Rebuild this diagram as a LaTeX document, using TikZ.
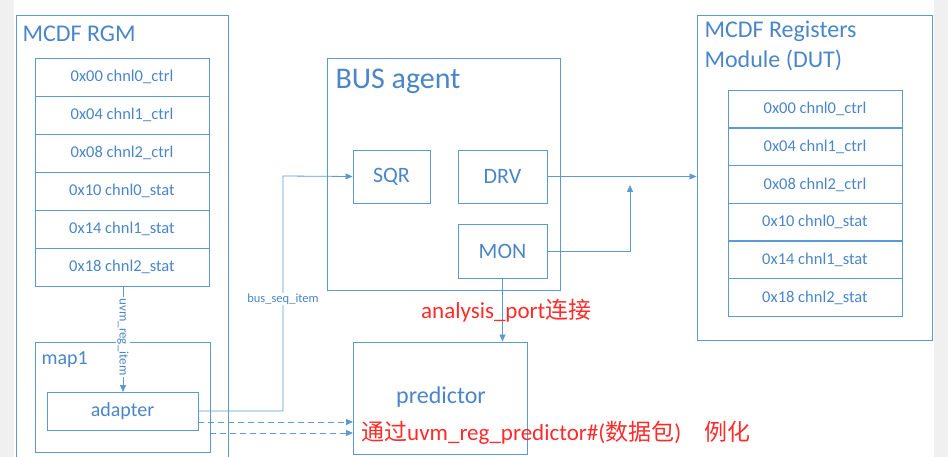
\documentclass[tikz,border=0pt]{standalone}
\usepackage{fontspec}
\setmainfont{Carlito}
\newfontfamily\cjk{Noto Sans CJK SC}
\usetikzlibrary{arrows.meta}
\definecolor{bl}{HTML}{5B9BD5}
\definecolor{tx}{HTML}{4A86C8}
\definecolor{rd}{HTML}{FF2A2A}
\tikzset{
 box/.style={draw=bl,line width=0.9pt,fill=white},
 reg/.style={draw=bl,line width=0.9pt,minimum width=174pt,minimum height=38pt,inner sep=0pt,text=tx,font=\fontsize{16.5}{18}\selectfont},
 blk/.style={draw=bl,line width=0.9pt,inner sep=0pt,text=tx,font=\fontsize{22}{24}\selectfont},
 con/.style={draw=bl,line width=0.8pt},
 arr/.style={con,-{Triangle[length=7pt,width=6pt]}},
 ttl/.style={text=tx,anchor=north west,font=\fontsize{24}{29}\selectfont,align=left},
}
\begin{document}
\begin{tikzpicture}[x=1pt,y=-1pt]
\useasboundingbox (0,0) rectangle (948,457);
\fill[black!6] (0,0) rectangle (14,457);
\fill[black!6] (934,0) rectangle (948,457);
% MCDF RGM
\draw[box] (16,470) -- (16,15) -- (228,15) -- (228,470);
\node[ttl] (rgmt) at (19,22) {MCDF RGM};
\foreach \i/\t in {0/0x00 chnl0\_ctrl,1/0x04 chnl1\_ctrl,2/0x08 chnl2\_ctrl,3/0x10 chnl0\_stat,4/0x14 chnl1\_stat,5/0x18 chnl2\_stat}
  \node[reg] (r\i) at (122,77+38*\i) {\t};
\node[box,draw=bl,minimum width=175pt,minimum height=110pt,inner sep=0pt] (map) at (122.5,397) {};
\node[ttl,font=\fontsize{20}{22}\selectfont] (mapt) at (38,348) {map1};
\node[blk,minimum width=151pt,minimum height=38pt,font=\fontsize{20}{22}\selectfont] (ad) at (122.5,411) {adapter};
\draw[arr] (123,286) -- (123,392);
\node[fill=white,inner sep=1pt,text=tx,font=\fontsize{13}{14}\selectfont,rotate=-90] (ril) at (123,337) {uvm\_reg\_item};
% BUS agent
\node[box,minimum width=233pt,minimum height=232pt,inner sep=0pt] (bus) at (443.5,174) {};
\node[ttl,font=\fontsize{30}{32}\selectfont] (bust) at (332,66) {BUS agent};
\node[blk,minimum width=77pt,minimum height=53pt] (sqr) at (391.5,176.5) {SQR};
\node[blk,minimum width=89pt,minimum height=53pt] (drv) at (502.5,176.5) {DRV};
\node[blk,minimum width=89pt,minimum height=54pt] (mon) at (502.5,251) {MON};
% DUT
\node[box,minimum width=235pt,minimum height=325pt,inner sep=0pt] (dut) at (814.5,177.5) {};
\node[ttl,font=\fontsize{24}{30}\selectfont] (dutt) at (701,17) {MCDF Registers\\Module (DUT)};
\foreach \i/\t in {0/0x00 chnl0\_ctrl,1/0x04 chnl1\_ctrl,2/0x08 chnl2\_ctrl,3/0x10 chnl0\_stat,4/0x14 chnl1\_stat,5/0x18 chnl2\_stat}
  \node[reg] (d\i) at (815,109+37.7*\i) {\t};
% predictor
\node[box,minimum width=174pt,minimum height=112pt,inner sep=0pt] (pred) at (440,398) {};
\node[text=tx,font=\fontsize{24}{26}\selectfont] (predt) at (441,397) {predictor};
% connectors
\draw[arr] (drv.east) -- (dut.west |- drv.east);
\draw[arr] (mon.east) -| (630,185);
\draw[arr] (mon.south) -- (pred.north -| mon.south);
\coordinate (b1) at (283,411);
\draw[arr] (ad.east) -- (b1) -- (283,176) -- (sqr.west);
\node[fill=white,inner sep=1pt,text=tx,font=\fontsize{12.5}{13}\selectfont] (bsl) at (283,299) {bus\_seq\_item};
\draw[arr,dashed,dash pattern=on 6pt off 4pt] (198,422) -- (353,422);
\draw[arr,dashed,dash pattern=on 6pt off 4pt] (210,433) -- (353,433);
\node[text=rd,anchor=west,font=\fontsize{23}{25}\selectfont,inner sep=0pt] (ap) at (421,311) {analysis\_port{\cjk 连接}};
\node[text=rd,anchor=west,font=\fontsize{23}{25}\selectfont,inner sep=0pt] (vt) at (361,433) {{\cjk 通过}uvm\_reg\_predictor\#({\cjk 数据包})\quad{\cjk 例化}};
\end{tikzpicture}
\end{document}
